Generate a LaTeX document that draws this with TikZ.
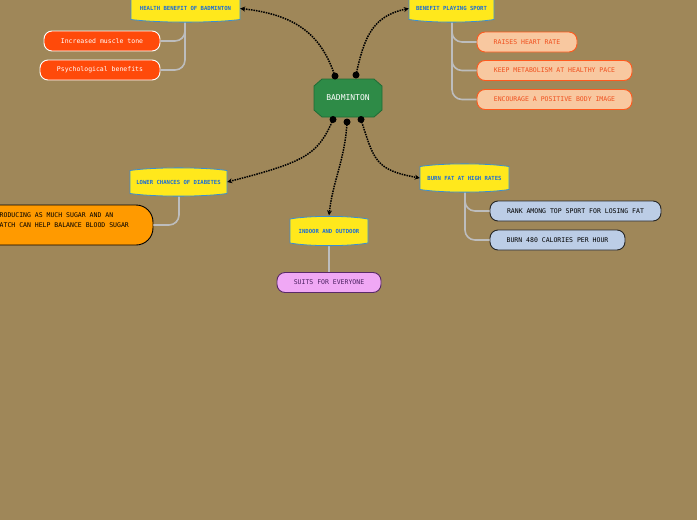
\documentclass[tikz,border=0pt]{standalone}
\usepackage{fontspec}
\usetikzlibrary{arrows.meta}
\newfontfamily\monof{DejaVu Sans Mono}
\definecolor{bgc}{HTML}{9F8759}
\definecolor{yfill}{HTML}{FFE81C}
\definecolor{yborder}{HTML}{3A8FD0}
\definecolor{ytext}{HTML}{1A6CD8}
\definecolor{gfill}{HTML}{2E8B47}
\definecolor{gborder}{HTML}{1F6B35}
\definecolor{rfill}{HTML}{FF4A0A}
\definecolor{pfill}{HTML}{F8C8A0}
\definecolor{pborder}{HTML}{FF5A1E}
\definecolor{ptext}{HTML}{F0501E}
\definecolor{ofill}{HTML}{FF9A00}
\definecolor{bfill}{HTML}{BCCDE6}
\definecolor{kfill}{HTML}{F0A8F5}
\definecolor{kborder}{HTML}{5A2A6A}
\definecolor{ktext}{HTML}{4A2060}
\definecolor{linec}{HTML}{BDBDBD}
\tikzset{
  ytxt/.style={font=\monof\bfseries\fontsize{5.6}{6}\selectfont, text=ytext, inner sep=0pt},
  leaf/.style={rounded corners=8pt, minimum height=20pt, inner sep=0pt, line width=0.9pt, font=\monof\fontsize{6.5}{7.5}\selectfont},
  redleaf/.style={leaf, fill=rfill, draw=white, text=white},
  peachleaf/.style={leaf, fill=pfill, draw=pborder, text=ptext},
  blueleaf/.style={leaf, fill=bfill, draw=black!85, text=black},
  pinkleaf/.style={leaf, fill=kfill, draw=kborder, text=ktext},
  branch/.style={draw=linec, line width=1.6pt, rounded corners=10pt},
  mainlink/.style={draw=black, line width=1.5pt, densely dotted, -{Stealth[length=5pt,width=5pt]}},
  dot/.style={circle, fill=black, inner sep=0pt, minimum size=7pt}
}
\newcommand\ybox[6]{% name, cx, cy, w, h, text
  \fill[yfill] ({#2-#4/2},{#3-#5/2+2.5}) .. controls ({#2-#4/4},{#3-#5/2-1}) and ({#2+#4/4},{#3-#5/2-1}) .. ({#2+#4/2},{#3-#5/2+2.5})
     -- ({#2+#4/2},{#3+#5/2-2.5}) .. controls ({#2+#4/4},{#3+#5/2+1}) and ({#2-#4/4},{#3+#5/2+1}) .. ({#2-#4/2},{#3+#5/2-2.5}) -- cycle;
  \draw[yborder, line width=0.8pt] ({#2-#4/2},{#3-#5/2+2.5}) .. controls ({#2-#4/4},{#3-#5/2-1}) and ({#2+#4/4},{#3-#5/2-1}) .. ({#2+#4/2},{#3-#5/2+2.5})
     -- ({#2+#4/2},{#3+#5/2-2.5}) .. controls ({#2+#4/4},{#3+#5/2+1}) and ({#2-#4/4},{#3+#5/2+1}) .. ({#2-#4/2},{#3+#5/2-2.5}) -- cycle;
  \node[ytxt, minimum width=#4 pt, minimum height=#5 pt] (#1) at (#2,#3) {#6};
}
\begin{document}
\begin{tikzpicture}[x=1pt,y=-1pt]
\useasboundingbox (0,0) rectangle (697,520);
\fill[bgc] (0,0) rectangle (697,520);

\coordinate (hb) at (185,22);
\coordinate (sb) at (452,22);
\coordinate (lb) at (179,196);
\coordinate (fb) at (465,192);
\coordinate (ib) at (329,245);

\node[redleaf, minimum width=116pt] (m1) at (102,41) {Increased muscle tone};
\node[redleaf, minimum width=120pt] (m2) at (100,70) {Psychological benefits};
\node[peachleaf, minimum width=100pt] (p1) at (527,42) {RAISES HEART RATE};
\node[peachleaf, minimum width=155pt] (p2) at (554.5,70.5) {KEEP METABOLISM AT HEALTHY PACE};
\node[peachleaf, minimum width=155pt] (p3) at (554.5,99.5) {ENCOURAGE A POSITIVE BODY IMAGE};
\node[blueleaf, minimum width=171pt] (b1) at (575.5,211) {RANK AMONG TOP SPORT FOR LOSING FAT};
\node[blueleaf, minimum width=135pt] (b2) at (557.5,240) {BURN 480 CALORIES PER HOUR};
\node[pinkleaf, minimum width=104pt] (k1) at (329,282.5) {SUITS FOR EVERYONE};
\node[leaf, fill=ofill, draw=black, rounded corners=17pt, minimum width=200pt, minimum height=40pt, text=black] (o1) at (53,225) {};
\node[font=\monof\fontsize{6.5}{9.5}\selectfont, align=left, anchor=west, inner sep=0pt] (o1t) at (-0.5,220) {RODUCING AS MUCH SUGAR AND AN\\ATCH CAN HELP BALANCE BLOOD SUGAR};

\draw[branch] (hb) |- (m1.east);
\draw[branch] (hb) |- (m2.east);
\draw[branch] (sb) |- (p1.west);
\draw[branch] (sb) |- (p2.west);
\draw[branch] (sb) |- (p3.west);
\draw[branch] (fb) |- (b1.west);
\draw[branch] (fb) |- (b2.west);
\draw[branch] (lb) |- (o1.east);
\draw[branch] (ib) -- (k1.north);

\ybox{h}{185.5}{8.5}{109}{27}{HEALTH BENEFIT OF BADMINTON}
\ybox{s}{451.5}{8.5}{85}{27}{BENEFIT PLAYING SPORT}
\ybox{l}{178.5}{182}{97}{28}{LOWER CHANCES OF DIABETES}
\ybox{f}{464.5}{178}{89}{28}{BURN FAT AT HIGH RATES}
\ybox{i}{329}{231}{78}{29}{INDOOR AND OUTDOOR}

\fill[gfill] (314,86) -- (322,79) -- (374,79) -- (382,86) -- (382,110) -- (374,117) -- (322,117) -- (314,110) -- cycle;
\draw[gborder, line width=0.8pt] (314,86) -- (322,79) -- (374,79) -- (382,86) -- (382,110) -- (374,117) -- (322,117) -- (314,110) -- cycle;
\node[font=\monof\fontsize{8}{9}\selectfont, text=white, inner sep=0pt] (c) at (348,98) {BADMINTON};

\node[dot] (d1) at (335,76) {};
\node[dot] (d2) at (356,75) {};
\node[dot] (d3) at (333,119.5) {};
\node[dot] (d4) at (347,122) {};
\node[dot] (d5) at (361,119.5) {};

\draw[mainlink] (d1.center) .. controls (322,38) and (300,15) .. (h.east);
\draw[mainlink] (d2.center) .. controls (364,38) and (372,16) .. (s.west);
\draw[mainlink] (d3.center) .. controls (318,155) and (305,162) .. (l.east);
\draw[mainlink] (d4.center) .. controls (345,160) and (333,180) .. ([yshift=1pt]i.north);
\draw[mainlink] (d5.center) .. controls (374,160) and (375,170) .. (f.west);
\end{tikzpicture}
\end{document}
